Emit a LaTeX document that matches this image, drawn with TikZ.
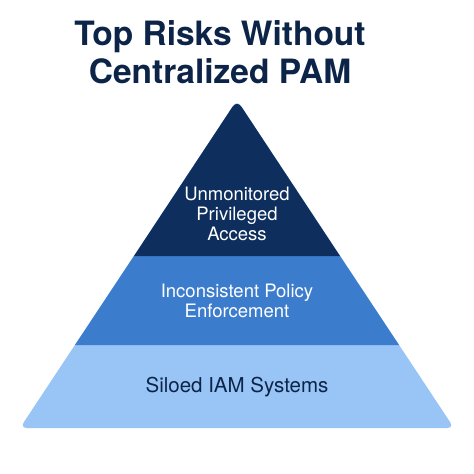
\documentclass[tikz,border=0pt]{standalone}
\usepackage{fontspec}
\usepackage{xcolor}
\usepackage{tikz}
\setmainfont{TeX Gyre Heros}
\definecolor{riskink}{RGB}{12,36,72}
\definecolor{risknavy}{RGB}{14,47,94}
\definecolor{riskblue}{RGB}{60,124,204}
\definecolor{risksky}{RGB}{152,196,246}

\begin{document}
\begin{tikzpicture}[x=1pt,y=-1pt,
  tierlabel/.style={align=center,font=\fontsize{18.5}{19.8}\selectfont}]
  \useasboundingbox (0,0) rectangle (474,474);
  \fill[white](0,0)rectangle(474,474);
  \node[riskink,align=center,font=\bfseries\fontsize{33.5}{37.5}\selectfont] (title) at (220,52) {Top Risks Without\\Centralized PAM};
  \fill[risksky,rounded corners=7pt](237,100)--(454,428)--(20,428)--cycle;
  \fill[riskblue](134,256)--(340,256)--(399,345)--(75,345)--cycle;
  \fill[risknavy](134,256)[rounded corners=8pt]--(237,100)[sharp corners]--(340,256)--cycle;
  \node[white,tierlabel] (access) at (237,214) {Unmonitored\\Privileged\\Access};
  \node[white,tierlabel] (policy) at (237,301) {Inconsistent Policy\\Enforcement};
  \node[riskink,tierlabel,font=\fontsize{20.5}{22}\selectfont] (silos) at (237,387) {Siloed IAM Systems};
\end{tikzpicture}
\end{document}
